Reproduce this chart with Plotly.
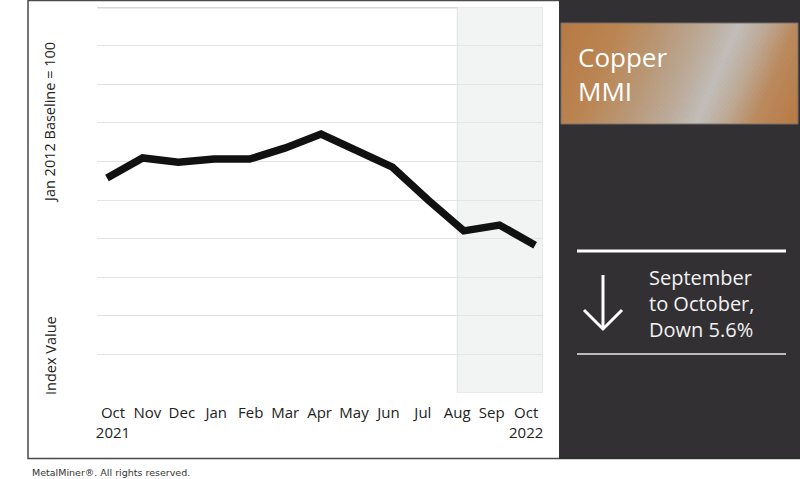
import plotly.graph_objects as go

# ---- data ----
categories = ["Oct 2021", "Nov 2021", "Dec 2021", "Jan 2022", "Feb 2022", "Mar 2022",
              "Apr 2022", "May 2022", "Jun 2022", "Jul 2022", "Aug 2022", "Sep 2022", "Oct 2022"]
tick_labels = ["Oct<br>2021", "Nov", "Dec", "Jan", "Feb", "Mar", "Apr", "May", "Jun",
               "Jul", "Aug", "Sep", "Oct<br>2022"]
index_values = [105.7, 110.9, 109.8, 110.6, 110.6, 113.5, 117.1, 112.7, 108.5, 100.0, 92.0, 93.5, 88.3]
shaded_from = "Aug 2022"
panel_title = "Copper<br>MMI"
panel_change = "September<br>to October,<br>Down 5.6%"
y_title_top = "Jan 2012 Baseline = 100"
y_title_bottom = "Index Value"
footer = "MetalMiner®. All rights reserved."

W, H = 800, 479
L, R, T, B = 97, 257, 7, 86
PW = W - L - R
PH = H - T - B


def px(xp):
    return (xp - L) / PW


def py(yp):
    return (H - B - yp) / PH


FONT = "Open Sans"

fig = go.Figure()
fig.add_trace(go.Scatter(
    x=categories, y=index_values, mode="lines",
    line=dict(color="#111111", width=7.5),
    hoverinfo="skip", showlegend=False, xaxis="x", yaxis="y"))
# invisible trace to carry the label axis
fig.add_trace(go.Scatter(
    x=categories, y=index_values, mode="lines", opacity=0,
    hoverinfo="skip", showlegend=False, xaxis="x2", yaxis="y"))

shapes = []
# outer frame
shapes.append(dict(type="rect", xref="paper", yref="paper",
                   x0=px(28), x1=px(799.5), y0=py(0.5), y1=py(458.5),
                   line=dict(color="#4a4a4a", width=1.5), fillcolor="rgba(0,0,0,0)", layer="below"))
# dark side panel
shapes.append(dict(type="rect", xref="paper", yref="paper",
                   x0=px(559), x1=px(800), y0=py(0), y1=py(459),
                   line=dict(width=0), fillcolor="#323033", layer="below"))
# shaded recent period
sh_idx = categories.index(shaded_from)
shapes.append(dict(type="rect", xref="x2", yref="y",
                   x0=sh_idx, x1=12.49, y0=50, y1=150,
                   line=dict(color="#e0e2e1", width=1), fillcolor="#f2f4f3", layer="below"))
# top thick line
shapes.append(dict(type="line", xref="paper", yref="y", x0=0, x1=1, y0=150, y1=150,
                   line=dict(color="#d6d6d6", width=3), layer="below"))

# copper gradient box with slanted bands
bx0, bx1, by0, by1 = 561, 798, 23, 124
slope = 0.43
ymid = 74
stops = [(539, (185, 122, 67)), (600, (187, 134, 84)), (645, (186, 152, 118)),
         (685, (188, 170, 152)), (718, (194, 190, 186)), (745, (190, 170, 150)),
         (775, (187, 138, 94)), (820, (185, 122, 67))]


def color_at(u):
    for (u0, c0), (u1, c1) in zip(stops[:-1], stops[1:]):
        if u0 <= u <= u1:
            t = (u - u0) / (u1 - u0)
            return "rgb(%d,%d,%d)" % tuple(round(a + (b - a) * t) for a, b in zip(c0, c1))
    return "rgb(%d,%d,%d)" % stops[-1][1]


def clip(poly, f):
    out = []
    n = len(poly)
    for i in range(n):
        p, q = poly[i], poly[(i + 1) % n]
        fp, fq = f(p), f(q)
        if fp >= 0:
            out.append(p)
        if (fp >= 0) != (fq >= 0):
            t = fp / (fp - fq)
            out.append((p[0] + (q[0] - p[0]) * t, p[1] + (q[1] - p[1]) * t))
    return out


box = [(bx0, by0), (bx1, by0), (bx1, by1), (bx0, by1)]
umin, umax = 539, 820
nstrip = 110
du = (umax - umin) / nstrip
for i in range(nstrip):
    ua = umin + i * du
    ub = ua + du + 0.6
    poly = clip(box, lambda p, ua=ua: p[0] + slope * (p[1] - ymid) - ua)
    poly = clip(poly, lambda p, ub=ub: ub - (p[0] + slope * (p[1] - ymid)))
    if len(poly) < 3:
        continue
    path = "M " + " L ".join("%.5f,%.5f" % (px(x), py(y)) for x, y in poly) + " Z"
    col = color_at(ua + du / 2)
    shapes.append(dict(type="path", xref="paper", yref="paper", path=path,
                       fillcolor=col, line=dict(width=0), layer="below"))
shapes.append(dict(type="rect", xref="paper", yref="paper",
                   x0=px(bx0), x1=px(bx1), y0=py(by0), y1=py(by1),
                   line=dict(color="#77716c", width=1), fillcolor="rgba(0,0,0,0)", layer="below"))

# separators in dark panel
shapes.append(dict(type="line", xref="paper", yref="paper", x0=px(577), x1=px(786),
                   y0=py(251), y1=py(251), line=dict(color="#ffffff", width=3)))
shapes.append(dict(type="line", xref="paper", yref="paper", x0=px(577), x1=px(786),
                   y0=py(354), y1=py(354), line=dict(color="#e8e8e8", width=1.5)))
# down arrow
shapes.append(dict(type="line", xref="paper", yref="paper", x0=px(603), x1=px(603),
                   y0=py(275), y1=py(328), line=dict(color="#ffffff", width=3)))
shapes.append(dict(type="path", xref="paper", yref="paper",
                   path="M %.5f,%.5f L %.5f,%.5f L %.5f,%.5f" % (px(584), py(310), px(603), py(329),
                                                                 px(622), py(310)),
                   line=dict(color="#ffffff", width=3)))

annotations = [
    dict(text=panel_title, xref="paper", yref="paper", x=px(576), y=py(74),
         xanchor="left", yanchor="middle", align="left", showarrow=False,
         font=dict(family=FONT, size=26, color="#ffffff")),
    dict(text=panel_change, xref="paper", yref="paper", x=px(647), y=py(303),
         xanchor="left", yanchor="middle", align="left", showarrow=False,
         font=dict(family=FONT, size=20, color="#f2f2f2")),
    dict(text=y_title_top, xref="paper", yref="paper", x=px(50), y=py(123),
         xanchor="center", yanchor="middle", textangle=-90, showarrow=False,
         font=dict(family=FONT, size=14.5, color="#222222")),
    dict(text=y_title_bottom, xref="paper", yref="paper", x=px(50), y=py(356),
         xanchor="center", yanchor="middle", textangle=-90, showarrow=False,
         font=dict(family=FONT, size=14.5, color="#222222")),
    dict(text=footer, xref="paper", yref="paper", x=px(30), y=py(472),
         xanchor="left", yanchor="middle", showarrow=False,
         font=dict(family="DejaVu Sans", size=9.5, color="#333333")),
]

fig.update_layout(
    width=W, height=H,
    margin=dict(l=L, r=R, t=T, b=B, pad=0),
    paper_bgcolor="#ffffff", plot_bgcolor="rgba(0,0,0,0)",
    showlegend=False,
    shapes=shapes, annotations=annotations,
    xaxis=dict(type="category", range=[-0.28, 12.22], showticklabels=False,
               showgrid=False, zeroline=False, showline=False, fixedrange=True),
    xaxis2=dict(type="category", overlaying="x", anchor="y", side="bottom",
                range=[-0.465, 12.49], tickmode="array", tickvals=categories,
                ticktext=tick_labels, ticks="", showgrid=False, zeroline=False,
                showline=False, ticklabelstandoff=9,
                tickfont=dict(family=FONT, size=15, color="#222222")),
    yaxis=dict(range=[50, 150], dtick=10, showticklabels=False, showgrid=True,
               gridcolor="#e4e4e4", gridwidth=1, zeroline=False, showline=False,
               fixedrange=True),
)

fig.write_html("out.html", config={"displayModeBar": False},
               post_script="document.body.style.margin='0';document.body.style.padding='0';")
